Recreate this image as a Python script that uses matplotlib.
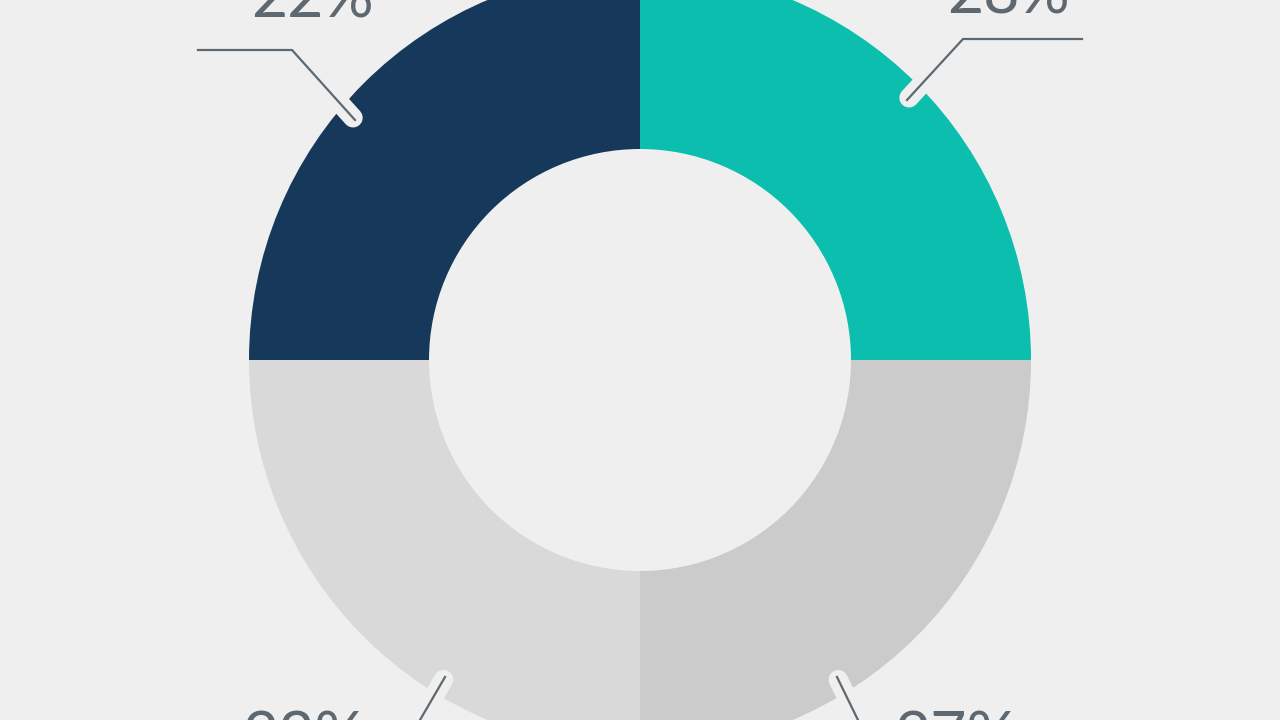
import matplotlib.pyplot as plt

# slices, clockwise from 12 o'clock
slice_sizes = [25, 25, 25, 25]
slice_colors = ['#0bbead', '#cbcbcb', '#d9d9d9', '#16385a']
slice_labels = ['28%', '27%', '23%', '22%']

bg = '#efefef'
ink = '#5d6870'

fig = plt.figure(figsize=(12.8, 7.2), dpi=100, facecolor=bg)
ax = fig.add_axes([0, 0, 1, 1])
ax.set_facecolor(bg)

cx, cy = 640, 360
R = 391
ax.pie(slice_sizes, colors=slice_colors, startangle=90, counterclock=False,
       center=(cx, cy), radius=R, frame=True,
       wedgeprops=dict(width=180, linewidth=0, antialiased=True))
ax.set_xlim(0, 1280)
ax.set_ylim(0, 720)
ax.set_aspect('equal')
ax.axis('off')

# leader lines (pixel coords, y up): end in ring, bend, tail
leaders = [
    [(907, 620), (963, 681), (1082, 681)],
    [(837, 43), (858, 0), (870, -25)],
    [(445, 43), (420, 0), (410, -25)],
    [(355, 600), (292, 670), (198, 670)],
]
text_pos = [(1008, 707), (955, -37), (303, -37), (312, 702)]

for pts, lab, tp in zip(leaders, slice_labels, text_pos):
    (x0, y0), (x1, y1) = pts[0], pts[1]
    dx, dy = x1 - x0, y1 - y0
    n = (dx ** 2 + dy ** 2) ** 0.5
    ux, uy = dx / n, dy / n
    # notch cut into the ring
    ax.plot([x0 + 3 * ux, x0 + 40 * ux], [y0 + 3 * uy, y0 + 40 * uy],
            color=bg, lw=14, solid_capstyle='round', zorder=3)
    xs = [p[0] for p in pts]
    ys = [p[1] for p in pts]
    ax.plot(xs, ys, color=ink, lw=1.6, solid_joinstyle='miter', zorder=4)
    ax.text(tp[0], tp[1], lab, ha='center', va='baseline', fontsize=45,
            family='Lato', fontweight='normal', color=ink, zorder=5)

fig.savefig('out.png', dpi=100, facecolor=bg)
